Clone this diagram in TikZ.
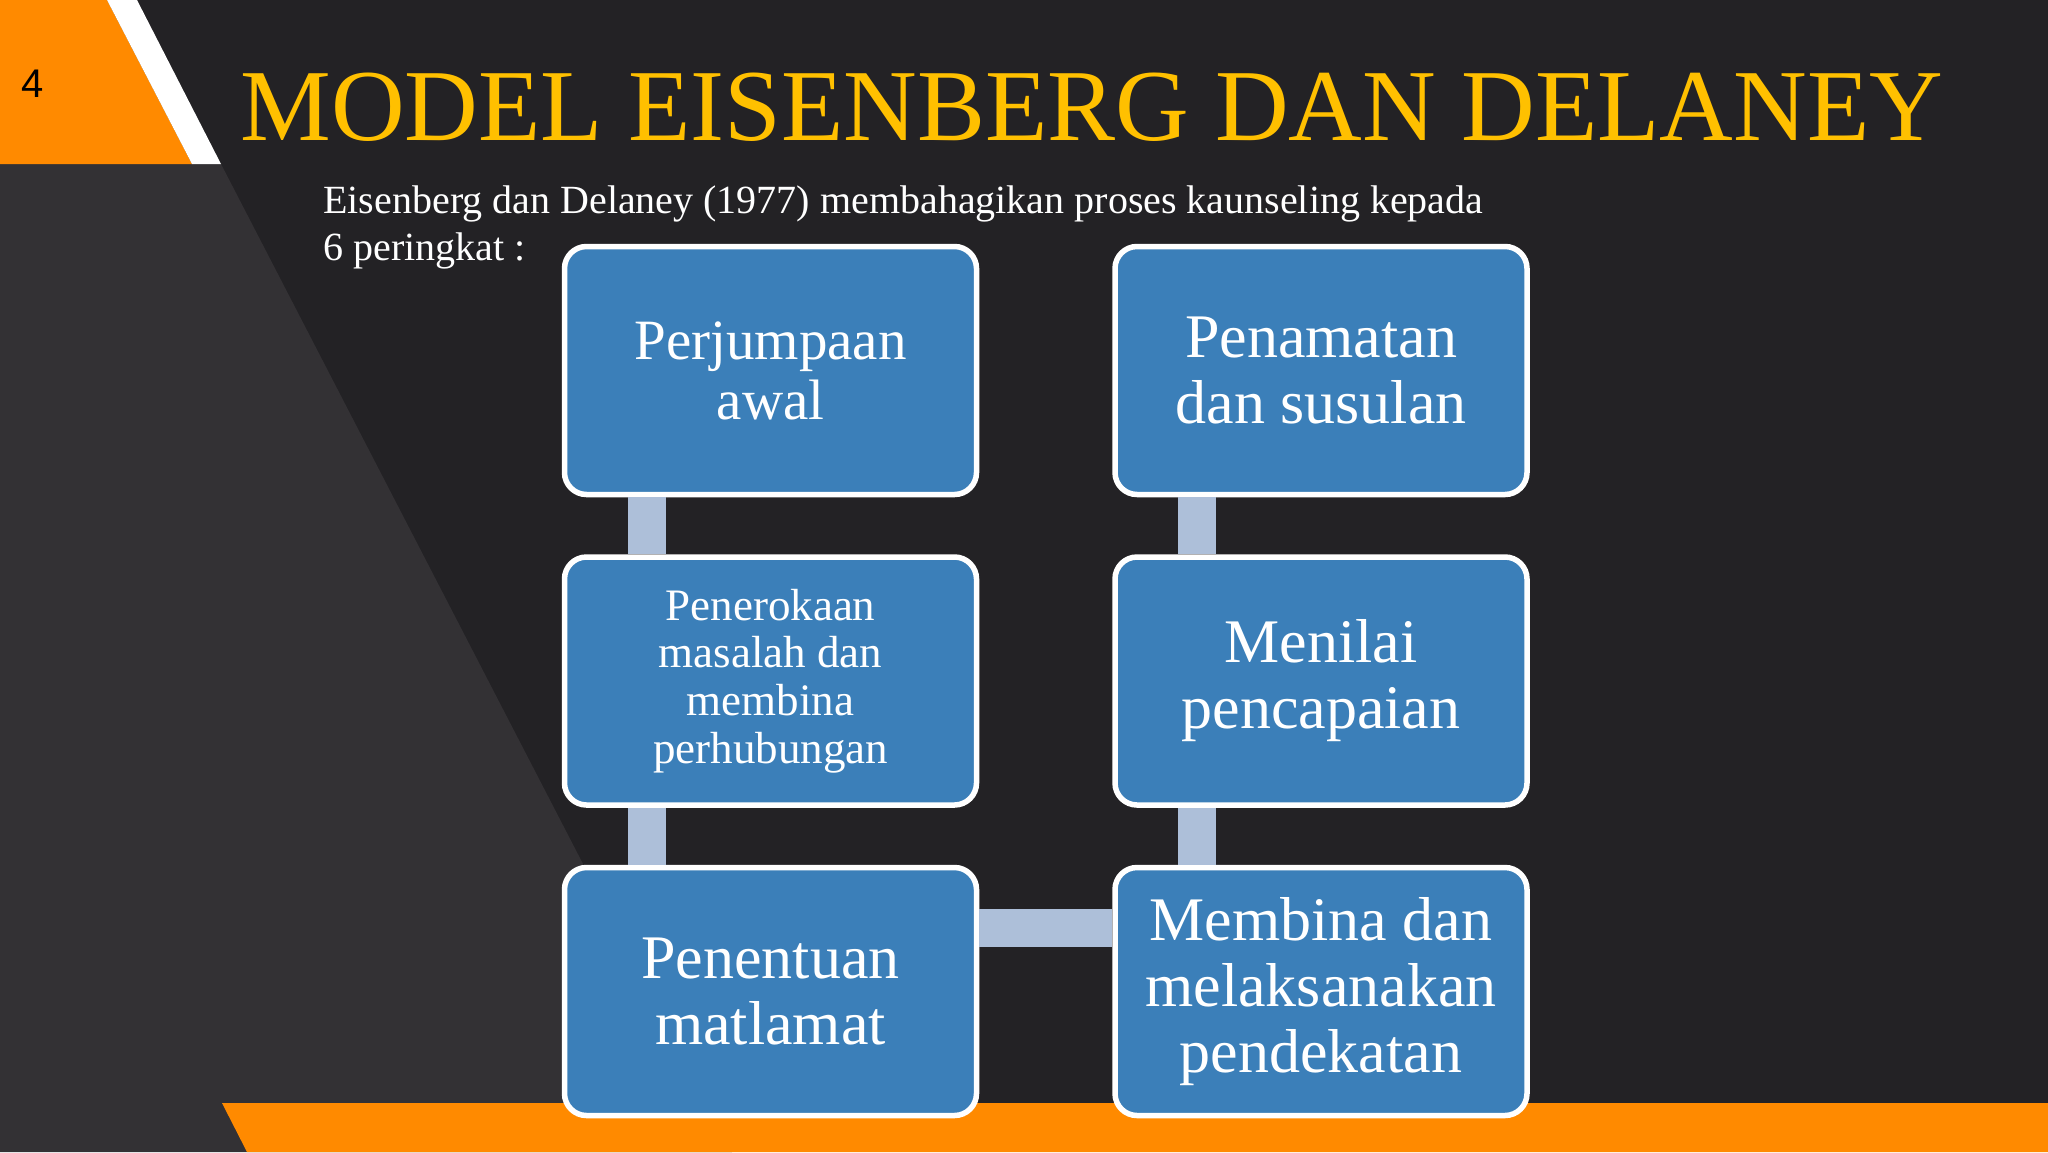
\documentclass[tikz,border=0pt]{standalone}
\usepackage{fontspec}
\setmainfont{Liberation Serif}
\setsansfont{Liberation Sans}
\usepackage{xcolor}
\usepackage{tikz}
\usetikzlibrary{positioning}
\usetikzlibrary{calc}
\definecolor{Latar}{HTML}{232225}
\definecolor{LatarTerang}{HTML}{333134}
\definecolor{Jingga}{HTML}{FF8A00}
\definecolor{Kuning}{HTML}{FFC000}
\definecolor{Biru}{HTML}{3B7FB9}
\definecolor{BiruMuda}{HTML}{ADBFD9}
\tikzset{
  Kotak/.style={draw=white, line width=2.75pt, fill=Biru, rounded corners=11pt,
    minimum width=206pt, minimum height=124pt, inner sep=0pt,
    text=white, align=center}, % Kotak peringkat
  Jalur/.style={BiruMuda, line width=19pt}, % Penyambung antara kotak
  Teks/.style={anchor=base west, inner sep=0pt, text=white,
    font=\fontsize{20pt}{23.5pt}\selectfont}, % Teks pengenalan
  Besar/.style={font=\fontsize{31pt}{33pt}\selectfont},
  Sedang/.style={font=\fontsize{28.5pt}{30pt}\selectfont},
  Kecil/.style={font=\fontsize{22.5pt}{23.8pt}\selectfont}
}

\begin{document}
\begin{tikzpicture}[x=0.5pt, y=-0.5pt]
\useasboundingbox (0,0) rectangle (2048,1152);

%Latar belakang
\fill[Latar] (0,0) rectangle (2048,1152);
\fill[LatarTerang] (0,164) -- (221,164) -- (732,1152) -- (0,1152) -- cycle;
\fill[Jingga] (0,0) -- (107,0) -- (192,164) -- (0,164) -- cycle;
\fill[white] (107,0) -- (137,0) -- (221,164) -- (192,164) -- cycle;
\fill[Jingga] (222,1103) -- (2048,1103) -- (2048,1152) -- (247,1152) -- cycle;

%Judul
\node[anchor=base west, inner sep=0pt,
  font=\sffamily\fontsize{20pt}{20pt}\selectfont] (nomor) at (21,97) {4};
\node[anchor=base west, inner sep=0pt, text=Kuning,
  font=\fontsize{51pt}{51pt}\selectfont] (judul) at (240,140)
  {MODEL EISENBERG DAN DELANEY};
\node[Teks] (sub1) at (323,213)
  {Eisenberg dan Delaney (1977) membahagikan proses kaunseling kepada};
\node[Teks] (sub2) at (323,260) {6 peringkat :};

%Kotak
\node[Kotak, Sedang] (K1) at (770.5,370.5) {Perjumpaan\\awal};
\node[Kotak, Kecil, below=28.5pt of K1] (K2)
  {Penerokaan\\masalah dan\\membina\\perhubungan};
\node[Kotak, Besar, below=28.5pt of K2] (K3) {Penentuan\\matlamat};
\node[Kotak, Besar, right=66.5pt of K3] (K4)
  {Membina dan\\melaksanakan\\pendekatan};
\node[Kotak, Besar, above=28.5pt of K4] (K5) {Menilai\\pencapaian};
\node[Kotak, Besar, above=28.5pt of K5] (K6) {Penamatan\\dan susulan};

%Penyambung
\draw[Jalur] ($(K1.south west)+(85,0)$) -- ($(K2.north west)+(85,0)$);
\draw[Jalur] ($(K2.south west)+(85,0)$) -- ($(K3.north west)+(85,0)$);
\draw[Jalur] ($(K3.north east)+(0,63)$) -- ($(K4.north west)+(0,63)$);
\draw[Jalur] ($(K4.north west)+(85,0)$) -- ($(K5.south west)+(85,0)$);
\draw[Jalur] ($(K5.north west)+(85,0)$) -- ($(K6.south west)+(85,0)$);

\end{tikzpicture}
\end{document}
